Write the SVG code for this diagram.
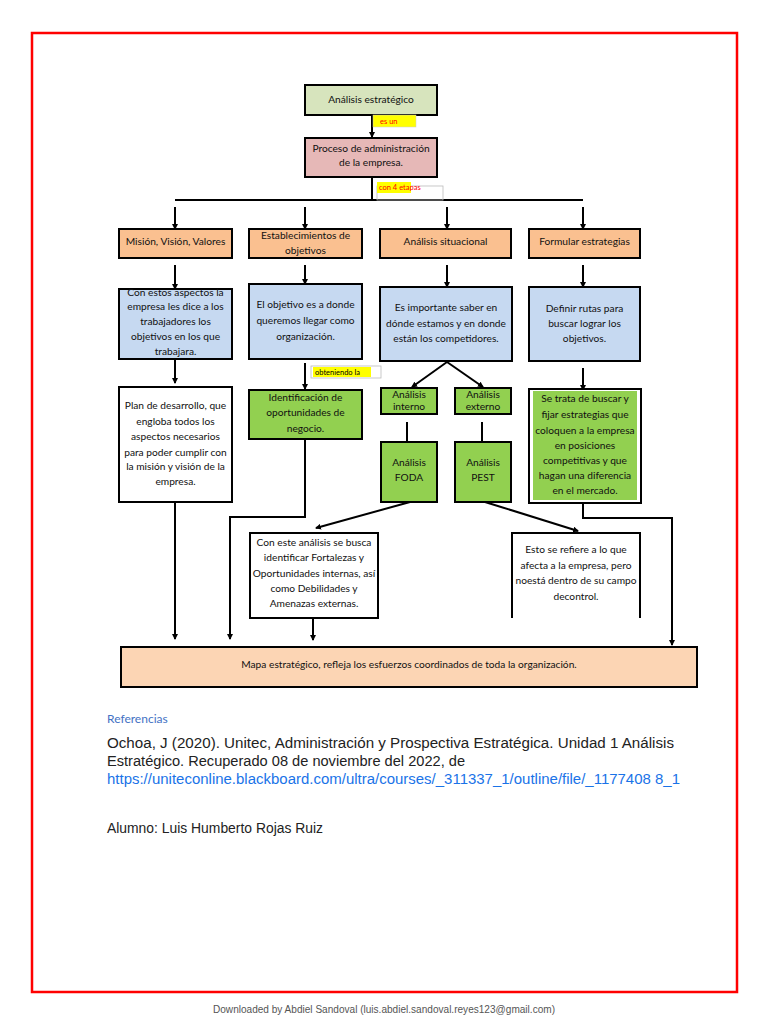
<svg xmlns="http://www.w3.org/2000/svg" width="768" height="1024" viewBox="0 0 768 1024">
<defs>
<marker id="ah" markerWidth="6" markerHeight="6" refX="5" refY="3" orient="auto" markerUnits="userSpaceOnUse">
<path d="M0,0 L6,3 L0,6 Z" fill="#000"/>
</marker>
<style>
.bx{stroke:#000;stroke-width:2}
.t{font-family:Lato,"Liberation Sans",sans-serif;font-size:10.2px;fill:#111;text-anchor:middle}
.ln{stroke:#000;stroke-width:2;fill:none}
.lbl{font-family:Lato,"Liberation Sans",sans-serif;font-size:7.5px;fill:#ff0000}
.lbk{font-family:Lato,"Liberation Sans",sans-serif;font-size:7.5px;fill:#000}
.or{fill:#fac090}
.bl{fill:#c6d9f1}
.gr{fill:#92d050}
</style>
</defs>
<rect width="768" height="1024" fill="#fff"/>
<rect x="32" y="33" width="705" height="959" fill="none" stroke="#ff0000" stroke-width="2.5"/>

<g id="connectors">
<line class="ln" x1="372" y1="115" x2="372" y2="137" marker-end="url(#ah)"/>
<line class="ln" x1="372" y1="177" x2="372" y2="200"/>
<line class="ln" x1="175" y1="200" x2="583" y2="200"/>
<line class="ln" x1="175" y1="207" x2="175" y2="229" marker-end="url(#ah)"/>
<line class="ln" x1="305" y1="207" x2="305" y2="229" marker-end="url(#ah)"/>
<line class="ln" x1="447" y1="207" x2="447" y2="229" marker-end="url(#ah)"/>
<line class="ln" x1="583" y1="207" x2="583" y2="229" marker-end="url(#ah)"/>
<line class="ln" x1="175" y1="265" x2="175" y2="289" marker-end="url(#ah)"/>
<line class="ln" x1="305" y1="265" x2="305" y2="284" marker-end="url(#ah)"/>
<line class="ln" x1="447" y1="265" x2="447" y2="287" marker-end="url(#ah)"/>
<line class="ln" x1="583" y1="265" x2="583" y2="287" marker-end="url(#ah)"/>
<line class="ln" x1="175" y1="360" x2="175" y2="383" marker-end="url(#ah)"/>
<line class="ln" x1="305" y1="363" x2="305" y2="389" marker-end="url(#ah)"/>
<line class="ln" x1="447" y1="362" x2="412" y2="387" marker-end="url(#ah)"/>
<line class="ln" x1="447" y1="362" x2="483" y2="387" marker-end="url(#ah)"/>
<line class="ln" x1="583" y1="368" x2="583" y2="390" marker-end="url(#ah)"/>
<line class="ln" x1="407" y1="422" x2="407" y2="441"/>
<line class="ln" x1="482" y1="422" x2="482" y2="441"/>
<line class="ln" x1="175" y1="502" x2="175" y2="639" marker-end="url(#ah)"/>
<polyline class="ln" points="305,439 305,517 230,517 230,639" marker-end="url(#ah)"/>
<line class="ln" x1="410" y1="502" x2="316" y2="528" marker-end="url(#ah)"/>
<line class="ln" x1="485" y1="502" x2="578" y2="531" marker-end="url(#ah)"/>
<line class="ln" x1="313" y1="618" x2="313" y2="640" marker-end="url(#ah)"/>
<polyline class="ln" points="583,503 583,518 672,518 672,645" marker-end="url(#ah)"/>
</g>

<g id="n-analisis">
<rect class="bx" x="305" y="85" width="132" height="30" fill="#d7e4bd"/>
<text class="t" x="371" y="103">Análisis estratégico</text>
</g>
<g id="l-esun">
<rect x="373" y="115" width="43" height="12" fill="#ffff00" stroke="#ccc" stroke-width="0.5"/>
<text class="lbl" x="380" y="124">es un</text>
</g>
<g id="n-proceso">
<rect class="bx" x="305" y="138" width="132" height="39" fill="#e6b8b7"/>
<text class="t" x="371" y="152">Proceso de administración</text>
<text class="t" x="371" y="166">de la empresa.</text>
</g>
<g id="l-etapas">
<rect x="377" y="186" width="66" height="14" fill="none" stroke="#bbb" stroke-width="0.8"/>
<rect x="377" y="182" width="34" height="11" fill="#ffff00"/>
<text class="lbl" x="379" y="190">con 4 etapas</text>
</g>

<g id="n-mision">
<rect class="bx or" x="119" y="229" width="113" height="29"/>
<text class="t" x="175.5" y="245">Misión, Visión, Valores</text>
</g>
<g id="n-establecimientos">
<rect class="bx or" x="249" y="229" width="113" height="29"/>
<text class="t" x="305.5" y="239">Establecimientos de</text>
<text class="t" x="305.5" y="254">objetivos</text>
</g>
<g id="n-situacional">
<rect class="bx or" x="380" y="229" width="131" height="29"/>
<text class="t" x="445.5" y="245">Análisis situacional</text>
</g>
<g id="n-formular">
<rect class="bx or" x="529" y="229" width="111" height="29"/>
<text class="t" x="584.5" y="245">Formular estrategias</text>
</g>

<g id="n-conestos">
<rect class="bx bl" x="119" y="289" width="113" height="70"/>
<text class="t" x="175.5" y="296">Con estos aspectos la</text>
<text class="t" x="175.5" y="310">empresa les dice a los</text>
<text class="t" x="175.5" y="325">trabajadores los</text>
<text class="t" x="175.5" y="340">objetivos en los que</text>
<text class="t" x="175.5" y="355">trabajara.</text>
</g>
<g id="n-objetivo">
<rect class="bx bl" x="249" y="284" width="113" height="75"/>
<text class="t" x="305.5" y="308">El objetivo es a donde</text>
<text class="t" x="305.5" y="324">queremos llegar como</text>
<text class="t" x="305.5" y="340">organización.</text>
</g>
<g id="n-importante">
<rect class="bx bl" x="380" y="287" width="132" height="74"/>
<text class="t" x="446" y="311">Es importante saber en</text>
<text class="t" x="446" y="327">dónde estamos y en donde</text>
<text class="t" x="446" y="342">están los competidores.</text>
</g>
<g id="n-definir">
<rect class="bx bl" x="529" y="287" width="111" height="74"/>
<text class="t" x="584.5" y="312">Definir rutas para</text>
<text class="t" x="584.5" y="327">buscar lograr los</text>
<text class="t" x="584.5" y="342">objetivos.</text>
</g>

<g id="l-obteniendo">
<rect x="311" y="366" width="70" height="12" fill="#fff" stroke="#bbb" stroke-width="0.8"/>
<rect x="313" y="367" width="58" height="10" fill="#ffff00"/>
<text class="lbk" x="315" y="375">obteniendo la</text>
</g>

<g id="n-plan">
<rect class="bx" x="119" y="387" width="113" height="115" fill="#fff"/>
<text class="t" x="175.5" y="409">Plan de desarrollo, que</text>
<text class="t" x="175.5" y="425">engloba todos los</text>
<text class="t" x="175.5" y="440">aspectos necesarios</text>
<text class="t" x="175.5" y="456">para poder cumplir con</text>
<text class="t" x="175.5" y="470">la misión y visión de la</text>
<text class="t" x="175.5" y="485">empresa.</text>
</g>
<g id="n-identificacion">
<rect class="bx gr" x="249" y="390" width="113" height="49"/>
<text class="t" x="305.5" y="401">Identificación de</text>
<text class="t" x="305.5" y="416">oportunidades de</text>
<text class="t" x="305.5" y="432">negocio.</text>
</g>
<g id="n-interno">
<rect class="bx gr" x="381" y="388" width="56" height="26"/>
<text class="t" x="409" y="398">Análisis</text>
<text class="t" x="409" y="410">interno</text>
</g>
<g id="n-externo">
<rect class="bx gr" x="455" y="388" width="56" height="26"/>
<text class="t" x="483" y="398">Análisis</text>
<text class="t" x="483" y="410">externo</text>
</g>
<g id="n-foda">
<rect class="bx gr" x="381" y="442" width="56" height="60"/>
<text class="t" x="409" y="466">Análisis</text>
<text class="t" x="409" y="481">FODA</text>
</g>
<g id="n-pest">
<rect class="bx gr" x="455" y="442" width="56" height="60"/>
<text class="t" x="483" y="466">Análisis</text>
<text class="t" x="483" y="481">PEST</text>
</g>
<g id="n-setrata">
<rect class="bx" x="529" y="389" width="112" height="114" fill="#fff"/>
<rect x="533" y="391" width="104" height="109" fill="#92d050"/>
<text class="t" x="585" y="402">Se trata de buscar y</text>
<text class="t" x="585" y="418">fijar estrategias que</text>
<text class="t" x="585" y="434">coloquen a la empresa</text>
<text class="t" x="585" y="449">en posiciones</text>
<text class="t" x="585" y="464">competitivas y que</text>
<text class="t" x="585" y="479">hagan una diferencia</text>
<text class="t" x="585" y="494">en el mercado.</text>
</g>

<g id="n-coneste">
<rect class="bx" x="250" y="533" width="128" height="85" fill="#fff"/>
<text class="t" x="314" y="546">Con este análisis se busca</text>
<text class="t" x="314" y="561">identificar Fortalezas y</text>
<text class="t" x="314" y="577">Oportunidades internas, así</text>
<text class="t" x="314" y="592">como Debilidades y</text>
<text class="t" x="314" y="607">Amenazas externas.</text>
</g>
<g id="n-esto">
<polyline class="ln" points="512,618 512,533 640,533 640,618"/>
<text class="t" x="576" y="553">Esto se refiere a lo que</text>
<text class="t" x="576" y="569">afecta a la empresa, pero</text>
<text class="t" x="576" y="584">noestá dentro de su campo</text>
<text class="t" x="576" y="600">decontrol.</text>
</g>

<g id="n-mapa">
<rect class="bx" x="121" y="647" width="576" height="40" fill="#fcd5b4"/>
<text class="t" x="409" y="668">Mapa estratégico, refleja los esfuerzos coordinados de toda la organización.</text>
</g>

<g id="references">
<text x="107" y="723" font-family="Lato,'Liberation Sans',sans-serif" font-size="12" fill="#4472c4">Referencias</text>
<text x="107" y="748" font-family="'Liberation Sans',Arial,sans-serif" font-size="15.5" fill="#222" textLength="567" lengthAdjust="spacingAndGlyphs">Ochoa, J (2020). Unitec, Administración y Prospectiva Estratégica. Unidad 1 Análisis</text>
<text x="107" y="766" font-family="'Liberation Sans',Arial,sans-serif" font-size="15.5" fill="#222" textLength="358" lengthAdjust="spacingAndGlyphs">Estratégico. Recuperado 08 de noviembre del 2022, de</text>
<text x="107" y="784" font-family="'Liberation Sans',Arial,sans-serif" font-size="15.5" fill="#1a73e8" textLength="573" lengthAdjust="spacingAndGlyphs">https://uniteconline.blackboard.com/ultra/courses/_311337_1/outline/file/_1177408 8_1</text>
<text x="107" y="833" font-family="'Liberation Sans',Arial,sans-serif" font-size="15.5" fill="#222" textLength="216" lengthAdjust="spacingAndGlyphs">Alumno: Luis Humberto Rojas Ruiz</text>
</g>
<text x="384" y="1013" text-anchor="middle" font-family="'Liberation Sans',Arial,sans-serif" font-size="10.5" fill="#555" textLength="342" lengthAdjust="spacingAndGlyphs">Downloaded by Abdiel Sandoval (luis.abdiel.sandoval.reyes123@gmail.com)</text>
</svg>
